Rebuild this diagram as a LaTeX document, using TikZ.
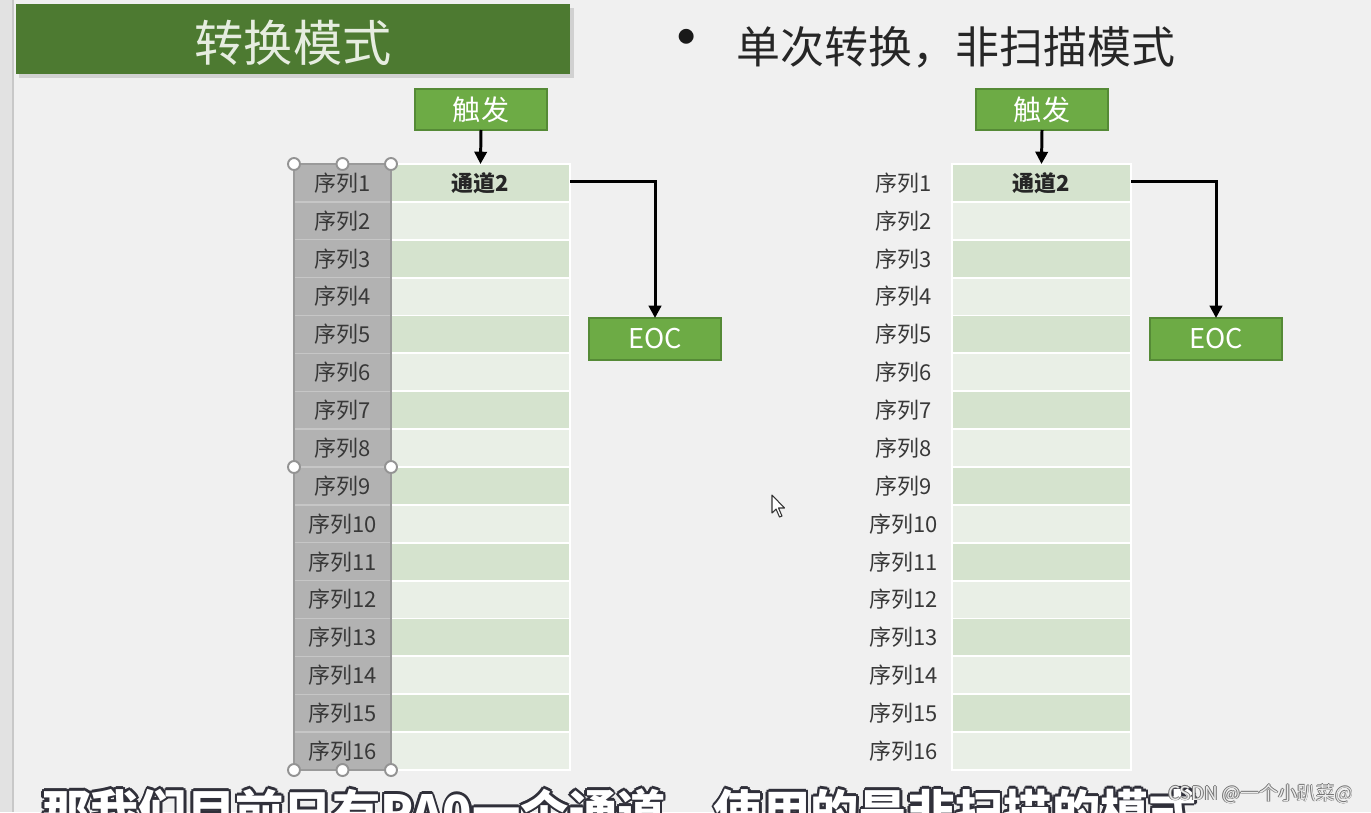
\documentclass[tikz,border=0pt]{standalone}
\usepackage{fontspec}
\setmainfont{Noto Sans CJK SC}
\usetikzlibrary{arrows.meta,calc}
\newdimen\pxu \pxu=0.02cm
\definecolor{bg}{HTML}{F0F0F0}
\definecolor{strip}{HTML}{E2E2E2}
\definecolor{stripline}{HTML}{C8C8C8}
\definecolor{titlegreen}{HTML}{4D7A31}
\definecolor{titletext}{HTML}{E6EDE0}
\definecolor{boxgreen}{HTML}{6DAB45}
\definecolor{boxborder}{HTML}{558A36}
\definecolor{chanA}{HTML}{D5E3CE}
\definecolor{chanB}{HTML}{E9EFE6}
\definecolor{seqgray}{HTML}{B2B2B2}
\definecolor{seqline}{HTML}{C6C6C6}
\definecolor{seqborder}{HTML}{9A9A9A}
\definecolor{labeltext}{HTML}{383838}
\definecolor{outline}{HTML}{30303A}
\tikzset{
  titlebar/.style={fill=titlegreen, inner sep=0pt, outer sep=0pt},
  greenbox/.style={fill=boxgreen, draw=boxborder, line width=0.8pt, text=white,
    inner sep=0pt, outer sep=0pt},
  chancell/.style={draw=white, line width=1.1pt, minimum width=179\pxu,
    minimum height=37.875\pxu, inner sep=0pt, outer sep=0pt},
  seqcell/.style={fill=seqgray, draw=seqline, line width=0.8pt, minimum width=97\pxu,
    minimum height=37.875\pxu, inner sep=0pt, outer sep=0pt, text=labeltext,
    font=\fontsize{12.5}{14}\selectfont},
  seqlabel/.style={minimum width=97\pxu, minimum height=37.875\pxu, inner sep=0pt,
    outer sep=0pt, text=labeltext, font=\fontsize{12.5}{14}\selectfont},
  conn/.style={line width=1.7pt, -{Triangle[width=7pt,length=7pt]}},
  handle/.style={circle, fill=white, draw=gray!85, line width=1.1pt,
    minimum size=12\pxu, inner sep=0pt},
  subt/.style={anchor=base west, inner sep=0pt, font=\fontsize{27.5}{30}\selectfont\bfseries},
  wmark/.style={anchor=base west, inner sep=0pt, font=\fontsize{10.8}{12}\selectfont},
}
\begin{document}
\begin{tikzpicture}[x=0.02cm,y=-0.02cm]
\useasboundingbox (0,0) rectangle (1371,812);
\clip (0,0) rectangle (1371,812);
\fill[bg] (0,0) rectangle (1371,812);
\fill[strip] (0,0) rectangle (13,812);
\draw[stripline, line width=0.8pt] (13,0) -- (13,812);

% title bar
\fill[black!18] (19,8) rectangle (574,78);
\node[titlebar, minimum width=554\pxu, minimum height=70\pxu] (title) at (293,39) {};
\node[inner sep=0pt, text=titletext, font=\fontsize{28}{30}\selectfont] (titletxt) at (293,43) {转换模式};

% bullet heading
\node[inner sep=0pt, text=black!90, font=\fontsize{40}{40}\selectfont] (bullet) at (687,46) {•};
\node[anchor=west, inner sep=0pt, text=black!85, font=\fontsize{25}{28}\selectfont] (heading) at (736,47) {单次转换，非扫描模式};

% ---------- left group ----------
\foreach \i in {1,...,16} {
  \pgfmathsetmacro\yc{164+(\i-0.5)*37.875}
  \ifodd\i
    \node[chancell, fill=chanA] (Lc\i) at (480.5,\yc) {};
  \else
    \node[chancell, fill=chanB] (Lc\i) at (480.5,\yc) {};
  \fi
  \node[seqcell] (Ls\i) at (342.5,\yc) {序列\i};
}
\draw[seqborder, line width=0.8pt] (Ls1.north west) rectangle (Ls16.south east);
\node[font=\fontsize{12.5}{14}\selectfont\bfseries, text=black!85] (Lch) at (Lc1) {通道2};

\node[greenbox, minimum width=132\pxu, minimum height=41\pxu,
  font=\fontsize{16}{18}\selectfont] (Ltrig) at (481,109.5) {触发};
\node[greenbox, minimum width=132\pxu, minimum height=42\pxu,
  font=\fontsize{15.5}{17}\selectfont] (Leoc) at (655,339) {EOC};
\draw[conn] (Ltrig.south) -- (Lc1.north);
\draw[conn] ([yshift=1pt]Lc1.east) -| (Leoc.north);

% selection handles
\foreach \p/\n in {{Ls1.north west}/h1,{Ls1.north}/h2,{Ls1.north east}/h3,
  {Ls8.south west}/h4,{Ls8.south east}/h5,
  {Ls16.south west}/h6,{Ls16.south}/h7,{Ls16.south east}/h8}
  \node[handle] (\n) at (\p) {};

% ---------- right group ----------
\foreach \i in {1,...,16} {
  \pgfmathsetmacro\yc{164+(\i-0.5)*37.875}
  \ifodd\i
    \node[chancell, fill=chanA] (Rc\i) at (1041.5,\yc) {};
  \else
    \node[chancell, fill=chanB] (Rc\i) at (1041.5,\yc) {};
  \fi
  \node[seqlabel] (Rs\i) at (903.5,\yc) {序列\i};
}
\node[font=\fontsize{12.5}{14}\selectfont\bfseries, text=black!85] (Rch) at (Rc1) {通道2};

\node[greenbox, minimum width=132\pxu, minimum height=41\pxu,
  font=\fontsize{16}{18}\selectfont] (Rtrig) at (1042,109.5) {触发};
\node[greenbox, minimum width=132\pxu, minimum height=42\pxu,
  font=\fontsize{15.5}{17}\selectfont] (Reoc) at (1216,339) {EOC};
\draw[conn] (Rtrig.south) -- (Rc1.north);
\draw[conn] ([yshift=1pt]Rc1.east) -| (Reoc.north);

% mouse cursor
\filldraw[fill=white, draw=black!80, line width=0.6pt, line join=round]
  (772,495) -- (772,513) -- (776,509) -- (779.5,517) -- (782,516) -- (778.5,508) -- (784.5,508) -- cycle;

% subtitle (cut off at bottom)
\foreach \dx/\dy in {-2.5/0,2.5/0,0/-2.5,0/2.5,-1.8/-1.8,1.8/-1.8,-1.8/1.8,1.8/1.8}
  \node[subt, text=outline] at (42+\dx,830+\dy) {那我们目前只有PA0一个通道，使用的是非扫描的模式};
\node[subt, text=white] (subtitle) at (42,830) {那我们目前只有PA0一个通道，使用的是非扫描的模式};

% watermark
\foreach \dx/\dy in {-0.8/0,0.8/0,0/-0.8,0/0.8}
  \node[wmark, text=black!55] at (1168+\dx,800+\dy) {CSDN @一个小趴菜@};
\node[wmark, text=white!92!black] (wm) at (1168,800) {CSDN @一个小趴菜@};
\end{tikzpicture}
\end{document}
